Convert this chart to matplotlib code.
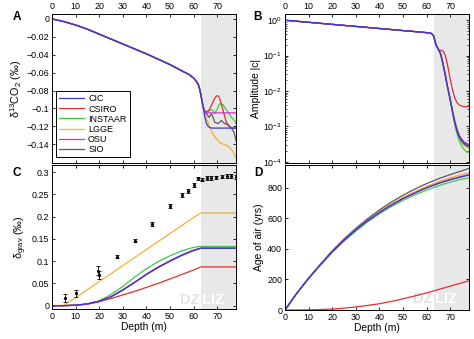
import numpy as np
import matplotlib
matplotlib.use("Agg")
import matplotlib.pyplot as plt
from matplotlib.ticker import LogLocator, FixedLocator, FuncFormatter, NullFormatter

plt.rcParams['font.family'] = ['Liberation Sans', 'DejaVu Sans']
plt.rcParams['mathtext.fontset'] = 'custom'
plt.rcParams['mathtext.rm'] = 'Liberation Sans'
plt.rcParams['mathtext.it'] = 'Liberation Sans:italic'
plt.rcParams['mathtext.bf'] = 'Liberation Sans:bold'

models = ["CIC", "CSIRO", "INSTAAR", "LGGE", "OSU", "SIO"]
colors = {"CIC": "#3a3ad0", "CSIRO": "#e03030", "INSTAAR": "#3ccc3c",
          "LGGE": "#f2b233", "OSU": "#d82ad8", "SIO": "#5a5a5a"}
draw_order = ["LGGE", "INSTAAR", "CSIRO", "SIO", "OSU", "CIC"]

# ---- Panel A: d13CO2 ----
a_depth_shared = [0, 5, 10, 15, 20, 25, 30, 35, 40, 45, 50, 55, 58, 60, 61, 62, 62.7]
a_d13_shared = [0, -0.003, -0.0068, -0.0115, -0.017, -0.0225, -0.028, -0.0335,
                -0.039, -0.045, -0.051, -0.058, -0.062, -0.066, -0.069, -0.073, -0.0795]
a_tail_depth = {
    "CIC":     [63.4, 64.1, 64.8, 65.5, 66.2, 66.9, 68, 70, 72, 74, 76, 78],
    "CSIRO":   [63.4, 64.1, 64.8, 65.5, 66.5, 67.6, 68.7, 69.7, 70.4, 71.1, 71.8, 72.5, 73.2, 73.9, 74.6, 75.4, 76.5, 78],
    "INSTAAR": [63.4, 64.1, 64.8, 65.5, 66.5, 67.6, 68.3, 69.0, 70.0, 71.1, 72.5, 73.5, 74.6, 76.1, 77.5, 78],
    "LGGE":    [63.4, 64.1, 64.8, 65.5, 66.5, 67.6, 68.6, 69.7, 71.0, 72.5, 74.6, 76.1, 77.5, 78],
    "OSU":     [63.4, 64.1, 64.8, 65.5, 66.5, 68, 70, 72, 74, 76, 78],
    "SIO":     [63.4, 64.1, 64.8, 65.5, 66.6, 67.6, 68.3, 69.0, 70.4, 71.8, 73.2, 74.6, 76.1, 77.2, 78],
}
a_tail_vals = {
    "CIC":     [-0.089, -0.0985, -0.110, -0.117, -0.120, -0.1215, -0.122, -0.122, -0.122, -0.122, -0.122, -0.122],
    "CSIRO":   [-0.089, -0.0985, -0.103, -0.104, -0.102, -0.0966, -0.090, -0.086, -0.086, -0.089, -0.095, -0.102, -0.109, -0.1155, -0.119, -0.121, -0.122, -0.122],
    "INSTAAR": [-0.089, -0.0985, -0.103, -0.104, -0.103, -0.101, -0.103, -0.1055, -0.101, -0.0947, -0.096, -0.100, -0.104, -0.110, -0.114, -0.117],
    "LGGE":    [-0.089, -0.100, -0.106, -0.111, -0.118, -0.125, -0.130, -0.134, -0.138, -0.140, -0.142, -0.146, -0.152, -0.156],
    "OSU":     [-0.089, -0.0985, -0.104, -0.105, -0.105, -0.105, -0.105, -0.105, -0.105, -0.105, -0.105],
    "SIO":     [-0.089, -0.0985, -0.104, -0.106, -0.110, -0.106, -0.110, -0.1155, -0.117, -0.1136, -0.117, -0.118, -0.122, -0.127, -0.136],
}

# ---- Panel B: amplitude |c| ----
b_depth_shared = [0, 10, 20, 30, 40, 50, 55, 60, 62, 63]
b_amp_shared = [1.0, 0.874, 0.764, 0.668, 0.584, 0.51, 0.478, 0.446, 0.425, 0.36]
b_tail_depth = [64, 65, 66, 67, 68, 69, 70, 71, 72, 73, 74, 75, 76, 77, 78]
b_tail_amp = {
    "CIC":     [0.20, 0.15, 0.11, 0.058, 0.027, 0.012, 0.0060, 0.0027, 0.0013, 0.00075, 0.00050, 0.00040, 0.00034, 0.00031, 0.00029],
    "CSIRO":   [0.20, 0.15, 0.14, 0.135, 0.10, 0.05, 0.022, 0.011, 0.0062, 0.0046, 0.0040, 0.0037, 0.0036, 0.0036, 0.0036],
    "INSTAAR": [0.20, 0.15, 0.11, 0.056, 0.026, 0.0115, 0.0055, 0.0024, 0.0011, 0.00058, 0.00037, 0.00027, 0.00022, 0.00019, 0.00018],
    "LGGE":    [0.20, 0.15, 0.11, 0.057, 0.026, 0.0118, 0.0057, 0.0026, 0.0012, 0.00068, 0.00045, 0.00035, 0.00029, 0.00026, 0.00024],
    "OSU":     [0.20, 0.15, 0.11, 0.059, 0.028, 0.0125, 0.0062, 0.0028, 0.0014, 0.00080, 0.00054, 0.00043, 0.00036, 0.00033, 0.00031],
    "SIO":     [0.21, 0.155, 0.11, 0.057, 0.027, 0.012, 0.0058, 0.0026, 0.0012, 0.00070, 0.00047, 0.00037, 0.00031, 0.00028, 0.00026],
}

# ---- Panel C: gravitational fractionation ----
c_depth = [0, 5, 10, 15, 20, 25, 30, 35, 40, 45, 50, 55, 60, 63, 78]
c_grav = {
    "LGGE":    [0, 0.001, 0.018, 0.036, 0.054, 0.072, 0.090, 0.108, 0.126, 0.144, 0.162, 0.180, 0.198, 0.208, 0.208],
    "INSTAAR": [0, 0.0, 0.001, 0.004, 0.011, 0.025, 0.043, 0.064, 0.083, 0.099, 0.112, 0.123, 0.131, 0.133, 0.133],
    "CIC":     [0, 0.0, 0.001, 0.004, 0.010, 0.020, 0.035, 0.052, 0.070, 0.086, 0.100, 0.113, 0.124, 0.129, 0.129],
    "OSU":     [0, 0.0, 0.001, 0.003, 0.009, 0.020, 0.036, 0.053, 0.071, 0.087, 0.101, 0.114, 0.125, 0.129, 0.129],
    "SIO":     [0, 0.0, 0.001, 0.004, 0.010, 0.020, 0.035, 0.052, 0.070, 0.086, 0.100, 0.113, 0.124, 0.129, 0.129],
    "CSIRO":   [0, 0.0, 0.001, 0.004, 0.009, 0.016, 0.024, 0.032, 0.041, 0.050, 0.060, 0.070, 0.080, 0.087, 0.087],
}
obs_depth = [5.3, 10, 19.5, 20, 27.5, 35, 42.5, 50, 55, 57.5, 60, 62, 63.5, 65.5, 67.5, 69.5, 72, 74, 76, 77.8]
obs_grav = [0.018, 0.028, 0.078, 0.069, 0.110, 0.146, 0.183, 0.224, 0.248, 0.258, 0.271,
            0.286, 0.283, 0.287, 0.287, 0.288, 0.290, 0.291, 0.291, 0.289]
obs_err = [0.009, 0.008, 0.010, 0.008, 0.004, 0.004, 0.004, 0.004, 0.004, 0.004, 0.004,
           0.004, 0.004, 0.004, 0.004, 0.004, 0.004, 0.004, 0.004, 0.004]

# ---- Panel D: age of air ----
d_depth = [0, 5, 10, 15, 20, 25, 30, 35, 40, 45, 50, 55, 60, 65, 70, 75, 78]
d_age = {
    "SIO":     [0, 110, 210, 300, 388, 465, 535, 598, 655, 706, 752, 792, 828, 860, 887, 912, 928],
    "LGGE":    [0, 110, 208, 298, 384, 460, 528, 590, 645, 694, 738, 776, 810, 840, 866, 888, 900],
    "OSU":     [0, 110, 208, 297, 382, 457, 525, 586, 640, 688, 731, 768, 802, 831, 856, 876, 888],
    "CIC":     [0, 110, 207, 296, 381, 456, 523, 584, 638, 686, 729, 766, 800, 829, 853, 873, 884],
    "INSTAAR": [0, 108, 205, 293, 377, 451, 517, 577, 630, 677, 718, 754, 786, 814, 838, 857, 866],
    "CSIRO":   [0, 0, 1, 3, 6, 12, 20, 30, 41, 56, 73, 92, 112, 134, 156, 178, 192],
}

xmax = 78
liz_start = 63
shade = "#e8e8e8"
lw = 0.9

W, H = 474, 339
fig = plt.figure(figsize=(W / 100, H / 100), dpi=100)


def box(l, t, r, b):
    return [l / W, 1 - b / H, (r - l) / W, (b - t) / H]


axA = fig.add_axes(box(52, 14, 236, 163))
axB = fig.add_axes(box(285, 14, 469, 163))
axC = fig.add_axes(box(52, 165, 236, 309))
axD = fig.add_axes(box(285, 165, 469, 310))

tick_fs = 6.4
lab_fs = 7.4


def style(ax, top_labels):
    ax.set_xlim(0, xmax)
    ax.axvspan(liz_start, xmax, color=shade, lw=0, zorder=0)
    ax.set_xticks(np.arange(0, 80, 10))
    ax.tick_params(direction="in", top=True, right=True, length=2.5, width=0.6,
                   labelsize=tick_fs, pad=2,
                   labeltop=top_labels, labelbottom=not top_labels)
    ax.tick_params(which="minor", direction="in", top=True, right=True, length=1.3, width=0.5)
    for s in ax.spines.values():
        s.set_linewidth(0.7)


def num_fmt(v, _):
    s = ("%.2f" % v).rstrip("0").rstrip(".")
    if s in ("-0", ""):
        s = "0"
    return s.replace("-", "\u2212")


# A
style(axA, True)
for m in draw_order:
    axA.plot(a_depth_shared + a_tail_depth[m], a_d13_shared + a_tail_vals[m],
             color=colors[m], lw=lw, label=m)
axA.set_ylim(-0.161, 0.0055)
axA.yaxis.set_major_locator(FixedLocator(np.round(np.arange(-0.14, 0.001, 0.02), 2)))
axA.yaxis.set_major_formatter(FuncFormatter(num_fmt))
axA.set_ylabel(r"$\mathregular{\delta^{13}CO_2}$ (‰)", fontsize=lab_fs + 0.4, labelpad=2)
handles, labels = axA.get_legend_handles_labels()
order = [labels.index(m) for m in models]
leg = axA.legend([handles[i] for i in order], [labels[i] for i in order],
                 loc="lower left", bbox_to_anchor=(0.022, 0.04), borderaxespad=0,
                 fontsize=6.5, frameon=True, fancybox=False, framealpha=1,
                 edgecolor="black", handlelength=2.8, handletextpad=0.4,
                 labelspacing=0.12, borderpad=0.35)
leg.get_frame().set_linewidth(0.7)

# B
style(axB, True)
for m in draw_order:
    axB.semilogy(b_depth_shared + b_tail_depth, b_amp_shared + b_tail_amp[m],
                 color=colors[m], lw=lw)
axB.set_ylim(9.2e-5, 1.5)
axB.yaxis.set_major_locator(LogLocator(base=10, numticks=10))
axB.yaxis.set_minor_locator(LogLocator(base=10, subs=np.arange(2, 10), numticks=20))
axB.yaxis.set_minor_formatter(NullFormatter())
axB.set_ylabel("Amplitude |c|", fontsize=lab_fs, labelpad=2)

# C
style(axC, False)
for m in draw_order:
    axC.plot(c_depth, c_grav[m], color=colors[m], lw=lw)
axC.errorbar(obs_depth, obs_grav, yerr=obs_err, fmt="o", ms=1.3, color="black",
             ecolor="black", elinewidth=0.6, capsize=1.3, capthick=0.6, zorder=5)
axC.set_ylim(-0.0075, 0.316)
axC.yaxis.set_major_locator(FixedLocator(np.round(np.arange(0, 0.301, 0.05), 2)))
axC.yaxis.set_major_formatter(FuncFormatter(num_fmt))
axC.set_ylabel(r"$\mathregular{\delta_{grav}}$ (‰)", fontsize=lab_fs + 0.4, labelpad=2)
axC.set_xlabel("Depth (m)", fontsize=lab_fs, labelpad=1)

# D
style(axD, False)
for m in draw_order:
    axD.plot(d_depth, d_age[m], color=colors[m], lw=lw)
axD.set_ylim(0, 950)
axD.set_yticks(np.arange(0, 801, 200))
axD.set_ylabel("Age of air (yrs)", fontsize=lab_fs, labelpad=2)
axD.set_xlabel("Depth (m)", fontsize=lab_fs, labelpad=1)

# zone labels
for ax, yv in ((axC, 0.0125), (axD, 70)):
    ax.text(62.4, yv, "DZ", color="#e2e2e2", fontsize=10.5, fontweight="bold",
            ha="right", va="center", zorder=1)
    ax.text(63.7, yv, "LIZ", color="white", fontsize=10.5, fontweight="bold",
            ha="left", va="center", zorder=1)

# panel letters
for lbl, x, y in (("A", 17, 17), ("B", 258, 17), ("C", 17, 173), ("D", 258, 173)):
    fig.text(x / W, 1 - y / H, lbl, fontsize=8.5, fontweight="bold",
             ha="center", va="center")

fig.savefig("out.png", dpi=100)
